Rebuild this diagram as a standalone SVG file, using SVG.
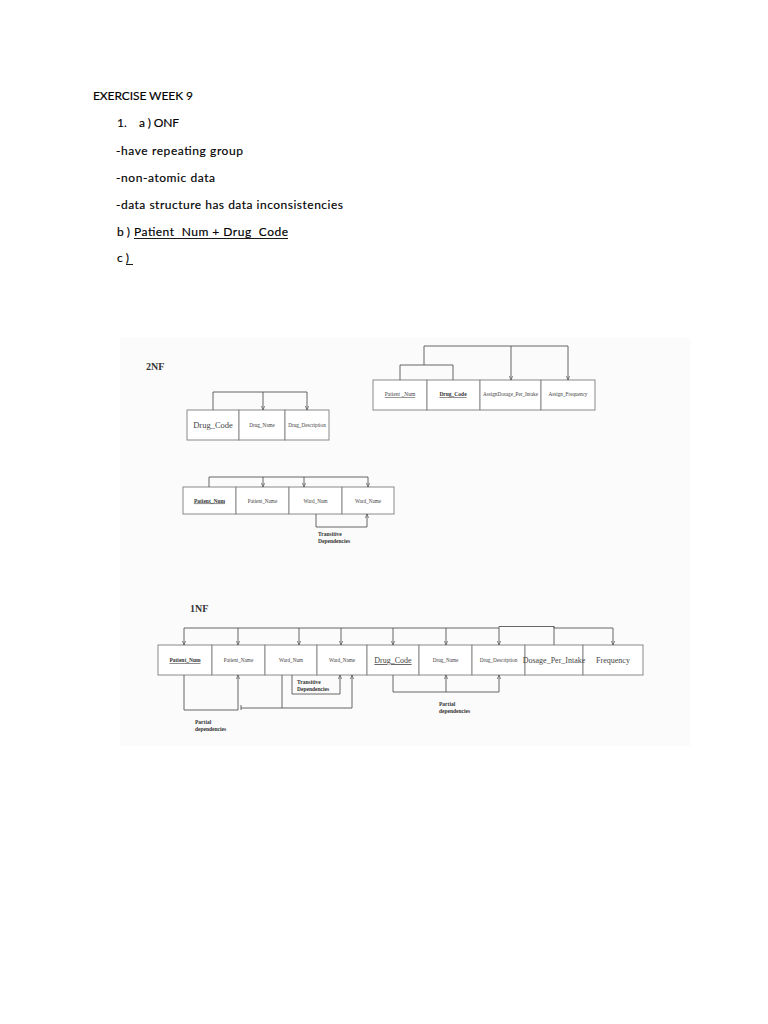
<svg xmlns="http://www.w3.org/2000/svg" width="768" height="1024" viewBox="0 0 768 1024">
<defs>
<style>
.hd{font-family:Lato,"Liberation Sans",Arial,sans-serif;font-size:12px;fill:#000;white-space:pre;stroke:#000;stroke-width:0.15}
.box{fill:#fff;stroke:#8a8a8a;stroke-width:1}
.ln{fill:none;stroke:#555;stroke-width:0.9}
.ar{fill:none;stroke:#555;stroke-width:0.9;marker-end:url(#arr)}
.t{font-family:"Liberation Serif","Times New Roman",serif;font-size:5.2px;fill:#444;text-anchor:middle}
.tb{font-family:"Liberation Serif","Times New Roman",serif;font-size:5.5px;fill:#333;text-anchor:middle;font-weight:bold;text-decoration:underline}
.tl{font-family:"Liberation Serif","Times New Roman",serif;font-size:8px;fill:#444;text-anchor:middle}
.lab{font-family:"Liberation Serif","Times New Roman",serif;font-size:5.5px;fill:#333;font-weight:bold}
.nf{font-family:"Liberation Serif","Times New Roman",serif;font-size:10px;fill:#333;font-weight:bold}
</style>
<marker id="arr" viewBox="0 0 6 6" refX="6" refY="3" markerWidth="4" markerHeight="4" markerUnits="userSpaceOnUse" orient="auto">
<path d="M0,0.5 L6,3 L0,5.5" fill="none" stroke="#555" stroke-width="1"/>
</marker>
</defs>
<rect width="768" height="1024" fill="#fff"/>
<g id="header">
<text class="hd" x="93" y="100" textLength="100" lengthAdjust="spacing">EXERCISE WEEK 9</text>
<text class="hd" x="117" y="127">1.</text>
<text class="hd" x="139" y="127" textLength="40" lengthAdjust="spacing">a ) ONF</text>
<text class="hd" x="116" y="155" textLength="127" lengthAdjust="spacing">-have repeating group</text>
<text class="hd" x="116" y="182" textLength="99" lengthAdjust="spacing">-non-atomic data</text>
<text class="hd" x="116" y="209" textLength="227" lengthAdjust="spacing">-data structure has data inconsistencies</text>
<text class="hd" x="117" y="236">b )</text>
<text class="hd" x="134" y="236" textLength="154" lengthAdjust="spacing">Patient  Num + Drug  Code</text>
<line x1="134" y1="238.5" x2="288" y2="238.5" stroke="#000" stroke-width="0.9"/>
<text class="hd" x="117" y="262">c )</text>
<line x1="126" y1="264.5" x2="133" y2="264.5" stroke="#000" stroke-width="0.9"/>
</g>
<rect x="120" y="338" width="570" height="408" fill="#fbfbfb"/>
<text class="nf" x="146" y="370">2NF</text>
<text class="nf" x="190" y="612">1NF</text>
<g id="drug-table">
<rect class="box" x="187" y="410" width="52" height="30"/>
<rect class="box" x="239" y="410" width="46" height="30"/>
<rect class="box" x="285" y="410" width="44" height="30"/>
<text class="tl" x="213" y="428" style="font-size:8.5px">Drug_Code</text>
<text class="t" x="262" y="427">Drug_Name</text>
<text class="t" x="307" y="427">Drug_Description</text>
</g>
<g id="assign-table">
<rect class="box" x="373" y="380" width="54" height="30"/>
<rect class="box" x="427" y="380" width="53" height="30"/>
<rect class="box" x="480" y="380" width="61" height="30"/>
<rect class="box" x="541" y="380" width="54" height="30"/>
<text class="t" x="400" y="396" style="text-decoration:underline;font-size:5.5px">Patient _Num</text>
<text class="tb" x="453" y="396">Drug_Code</text>
<text class="t" x="510.5" y="396">AssignDosage_Per_Intake</text>
<text class="t" x="568" y="396">Assign_Frequency</text>
</g>
<g id="patient-table">
<rect class="box" x="183" y="487" width="53" height="27"/>
<rect class="box" x="236" y="487" width="53" height="27"/>
<rect class="box" x="289" y="487" width="53" height="27"/>
<rect class="box" x="342" y="487" width="52" height="27"/>
<text class="tb" x="209.5" y="502.5">Patient_Num</text>
<text class="t" x="262.5" y="502.5">Patient_Name</text>
<text class="t" x="315.5" y="502.5">Ward_Num</text>
<text class="t" x="368" y="502.5">Ward_Name</text>
<text class="lab" x="318" y="536">Transitive</text>
<text class="lab" x="318" y="543">Dependencies</text>
</g>
<g id="nf1-table">
<rect class="box" x="158" y="645" width="54" height="30"/>
<rect class="box" x="212" y="645" width="53" height="30"/>
<rect class="box" x="265" y="645" width="52" height="30"/>
<rect class="box" x="317" y="645" width="50" height="30"/>
<rect class="box" x="367" y="645" width="52" height="30"/>
<rect class="box" x="419" y="645" width="53" height="30"/>
<rect class="box" x="472" y="645" width="53" height="30"/>
<rect class="box" x="525" y="645" width="58" height="30"/>
<rect class="box" x="583" y="645" width="60" height="30"/>
<text class="tb" x="185" y="662">Patient_Num</text>
<text class="t" x="238.5" y="662">Patient_Name</text>
<text class="t" x="291" y="662">Ward_Num</text>
<text class="t" x="342" y="662">Ward_Name</text>
<text class="tl" x="393" y="663" style="text-decoration:underline">Drug_Code</text>
<text class="t" x="445.5" y="662">Drug_Name</text>
<text class="t" x="498.5" y="662">Drug_Description</text>
<text class="tl" x="554" y="663">Dosage_Per_Intake</text>
<text class="tl" x="613" y="663">Frequency</text>
<text class="lab" x="297" y="684">Transitive</text>
<text class="lab" x="297" y="691">Dependencies</text>
<text class="lab" x="195" y="724">Partial</text>
<text class="lab" x="195" y="731">dependencies</text>
<text class="lab" x="439" y="706">Partial</text>
<text class="lab" x="439" y="713">dependencies</text>
</g>
<g id="connectors">
<path class="ar" d="M213,410 V392 H307 V410"/>
<path class="ar" d="M263,392 V410"/>
<path class="ln" d="M400,380 V365 H453 V380"/>
<path class="ar" d="M424,365 V346 H568 V380"/>
<path class="ar" d="M511,346 V380"/>
<path class="ar" d="M209,487 V477 H368 V487"/>
<path class="ar" d="M263,477 V487"/>
<path class="ar" d="M304,477 V487"/>
<path class="ar" d="M316,514 V527 H367 V514"/>
<path class="ln" d="M184,628 H499 V626.5 H554 V628 H613"/>
<path class="ln" d="M554,645 V626.5"/>
<path class="ar" d="M184,628 V645"/>
<path class="ar" d="M238,628 V645"/>
<path class="ar" d="M299,628 V645"/>
<path class="ar" d="M341,628 V645"/>
<path class="ar" d="M393,628 V645"/>
<path class="ar" d="M446,628 V645"/>
<path class="ar" d="M499,628 V645"/>
<path class="ar" d="M613,628 V645"/>
<path class="ar" d="M184,675 V710 H238 V675"/>
<path class="ln" d="M241,710 V705"/>
<path class="ln" d="M241,708 H282 V675"/>
<path class="ar" d="M282,708 H352 V675"/>
<path class="ar" d="M292,675 V694 H340 V675"/>
<path class="ar" d="M393,675 V692 H499 V675"/>
<path class="ar" d="M446,692 V675"/>
</g>
</svg>
